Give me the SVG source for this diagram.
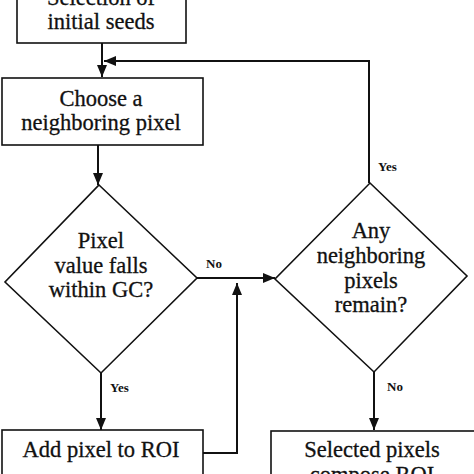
<svg xmlns="http://www.w3.org/2000/svg" width="474" height="474" viewBox="0 0 474 474">
<style>
.node{fill:#fff;stroke:#111;stroke-width:1.6}
.t{font-family:"Liberation Serif","DejaVu Serif",serif;font-size:22.5px;fill:#111;stroke:#111;stroke-width:0.3;text-anchor:middle}
.lbl{font-family:"Liberation Serif","DejaVu Serif",serif;font-size:13px;font-weight:bold;fill:#111}
.c{fill:none;stroke:#111;stroke-width:2}
</style>
<defs>
<marker id="ah" viewBox="0 0 12 10" refX="12" refY="5" markerWidth="12" markerHeight="10" markerUnits="userSpaceOnUse" orient="auto">
<path d="M0,0 L12,5 L0,10 Z" fill="#111"/>
</marker>
</defs>
<rect width="474" height="474" fill="#fff"/>
<g id="connectors">
<path class="c" d="M102,43 V77" marker-end="url(#ah)"/>
<path class="c" d="M369,183 V61 H104" marker-end="url(#ah)"/>
<path class="c" d="M98,145 V185" marker-end="url(#ah)"/>
<path class="c" d="M197,278 H275" marker-end="url(#ah)"/>
<path class="c" d="M203,453 H237 V283" marker-end="url(#ah)"/>
<path class="c" d="M101,373 V430" marker-end="url(#ah)"/>
<path class="c" d="M374,372 V430" marker-end="url(#ah)"/>
<text class="lbl" x="378" y="171">Yes</text>
<text class="lbl" x="206" y="268">No</text>
<text class="lbl" x="110" y="392">Yes</text>
<text class="lbl" x="387" y="391">No</text>
</g>
<g id="seeds">
<rect class="node" x="17" y="-10" width="169" height="53"/>
<text class="t" x="101" y="5">Selection of</text>
<text class="t" x="101" y="29">initial seeds</text>
</g>
<g id="choose">
<rect class="node" x="2" y="78" width="201" height="67"/>
<text class="t" x="101" y="106">Choose a</text>
<text class="t" x="101" y="130">neighboring pixel</text>
</g>
<g id="pixel-check">
<polygon class="node" points="99,185 197,278 101,373 5,282"/>
<text class="t" x="101" y="248">Pixel</text>
<text class="t" x="101" y="273">value falls</text>
<text class="t" x="101" y="297">within GC?</text>
</g>
<g id="remain-check">
<polygon class="node" points="370,183 467,276 374,372 275,279"/>
<text class="t" x="371" y="238">Any</text>
<text class="t" x="371" y="263">neighboring</text>
<text class="t" x="371" y="288">pixels</text>
<text class="t" x="371" y="312">remain?</text>
</g>
<g id="add">
<rect class="node" x="2" y="430" width="201" height="60"/>
<text class="t" x="101" y="457">Add pixel to ROI</text>
</g>
<g id="selected">
<rect class="node" x="271" y="431" width="210" height="60"/>
<text class="t" x="372" y="457">Selected pixels</text>
<text class="t" x="372" y="482">compose ROI</text>
</g>
</svg>
